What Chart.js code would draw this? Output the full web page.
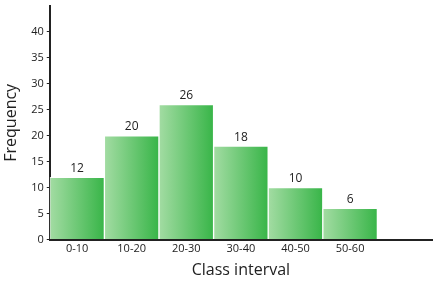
<!DOCTYPE html>
<html>
<head>
<meta charset="utf-8">
<script src="https://cdn.jsdelivr.net/npm/chart.js@4.4.0/dist/chart.umd.min.js"></script>
<style>
  html, body { margin: 0; padding: 0; background: #fff; }
  #wrap { width: 435px; height: 282px; }
</style>
</head>
<body>
<div id="wrap"><canvas id="myChart"></canvas></div>
<script>
const classes = ['0-10', '10-20', '20-30', '30-40', '40-50', '50-60', ''];
const frequency = [12, 20, 26, 18, 10, 6, null];
const yTicks = [0, 5, 10, 15, 20, 25, 30, 35, 40];

const FONT = "'Open Sans', 'DejaVu Sans', sans-serif";

function barGradient(context) {
    let chart = context.chart;
    let xs = chart.scales.x;
    if (!xs || context.dataIndex === undefined) return '#5cbf5c';
    let w = xs.width / classes.length;
    let cx = xs.getPixelForValue(context.dataIndex);
    if (!isFinite(cx) || !isFinite(w) || w <= 0) return '#5cbf5c';
    let g = chart.ctx.createLinearGradient(cx - w / 2, 0, cx + w / 2, 0);
    g.addColorStop(0, '#a3dca3');
    g.addColorStop(1, '#38b548');
    return g;
}

// numbers above the bars
const valueLabels = {
    id: 'valueLabels',
    afterDatasetsDraw(chart) {
        let c = chart.ctx;
        let meta = chart.getDatasetMeta(0);
        c.save();
        c.font = '12px ' + FONT;
        c.fillStyle = '#222';
        c.textAlign = 'center';
        c.textBaseline = 'bottom';
        meta.data.forEach(function (bar, i) {
            if (frequency[i] == null) return;
            c.fillText(frequency[i], bar.x, bar.y - 3);
        });
        c.restore();
    }
};

let ctx = document.getElementById('myChart').getContext('2d');
let myChart = new Chart(ctx, {
    type: 'bar',
    data: {
        labels: classes,
        datasets: [{
            label: 'Frequency',
            data: frequency,
            backgroundColor: barGradient,
            borderColor: 'rgba(255,255,255,0.85)',
            borderWidth: 1,
            categoryPercentage: 1,
            barPercentage: 1
        }]
    },
    options: {
        responsive: true,
        maintainAspectRatio: false,
        animation: false,
        layout: { padding: { top: 6, right: 3, left: 2, bottom: 2 } },
        plugins: {
            legend: { display: false },
            tooltip: { enabled: false }
        },
        scales: {
            x: {
                grid: { display: false, drawTicks: false },
                border: { color: '#222', width: 2 },
                ticks: { color: '#222', font: { family: FONT, size: 11 }, padding: 3 },
                title: {
                    display: true,
                    text: 'Class interval',
                    color: '#222',
                    font: { family: FONT, size: 16 },
                    padding: { top: 2, bottom: 0 }
                }
            },
            y: {
                min: 0,
                max: 45,
                afterBuildTicks: function (axis) {
                    axis.ticks = yTicks.map(function (v) { return { value: v }; });
                },
                afterFit: function (axis) {
                    axis.paddingTop = 0;
                },
                grid: { drawOnChartArea: false, tickLength: 3, color: '#222', tickWidth: 1 },
                border: { color: '#222', width: 2 },
                ticks: { color: '#222', font: { family: FONT, size: 11 }, padding: 3 },
                title: {
                    display: true,
                    text: 'Frequency',
                    color: '#222',
                    font: { family: FONT, size: 16 },
                    padding: { top: 0, bottom: 7 }
                }
            }
        }
    },
    plugins: [valueLabels]
});
</script>
</body>
</html>
